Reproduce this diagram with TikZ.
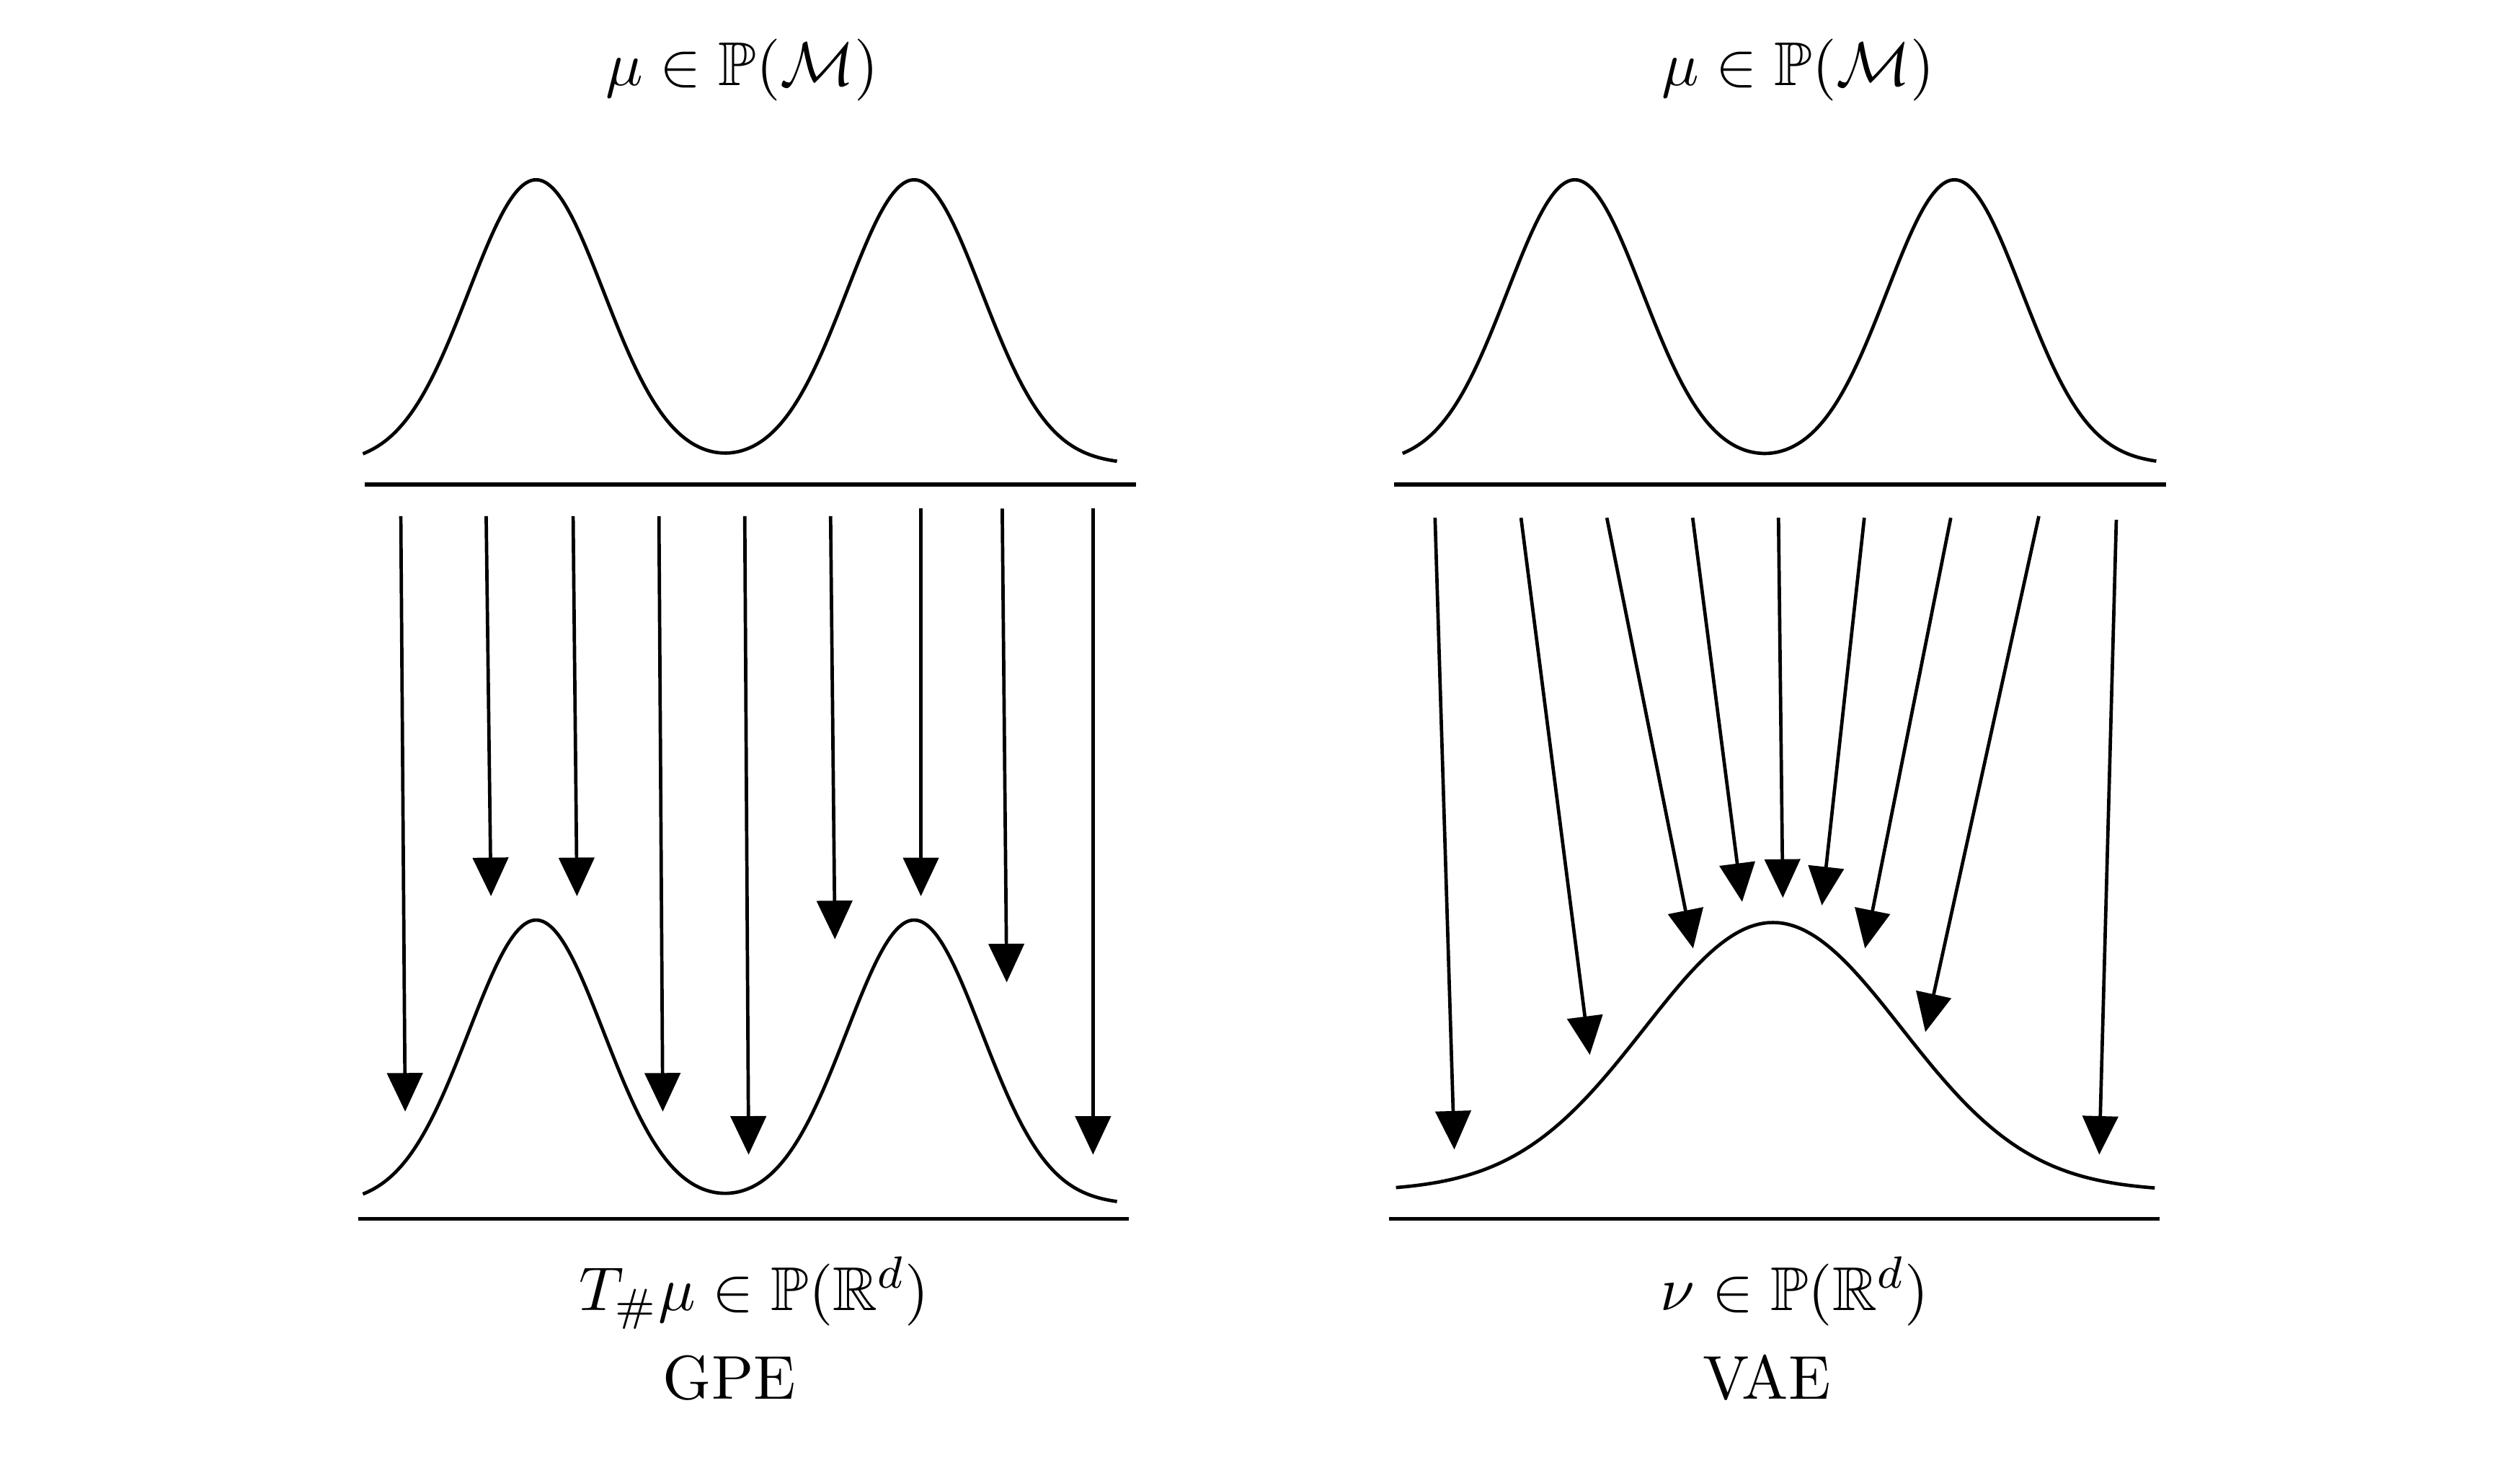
\documentclass[11pt,tikz,border=0pt]{standalone}
\usepackage{amssymb}
\usetikzlibrary{arrows.meta}

\begin{document}
\begin{tikzpicture}[line width=0.6pt, >={Triangle[width=0.22cm, length=0.24cm]},
		baseline/.style={line width=0.7pt},
		declare function={twobump(\t,\a,\b)=1.77*(exp(-(\t-\a)*(\t-\a)/0.3528)+exp(-(\t-\b)*(\t-\b)/0.3528));
			onebump(\t,\a)=1.671*exp(-(\t-\a)*(\t-\a)/1.28);}]
		\useasboundingbox (0, 0) rectangle (15.68, 9.08);
		
		% GPE
		\node[anchor=base] (muL) at (4.617, 8.55) {$\mu \in \mathbb{P}(\mathcal{M})$};
		\draw plot[domain=2.258:6.952, samples=160, smooth] (\x, {6.1915 + twobump(\x, 3.336, 5.688)});
		\draw[baseline] (2.268, 6.067) -- (7.068, 6.067);
		\draw[->] (2.494, 5.869) -- (2.521, 2.165);
		\draw[->] (3.025, 5.869) -- (3.055, 3.505);
		\draw[->] (3.566, 5.869) -- (3.590, 3.505);
		\draw[->] (4.100, 5.869) -- (4.124, 2.165);
		\draw[->] (4.634, 5.869) -- (4.658, 1.897);
		\draw[->] (5.168, 5.869) -- (5.195, 3.237);
		\draw[->] (5.730, 5.916) -- (5.730, 3.505);
		\draw[->] (6.236, 5.916) -- (6.264, 2.969);
		\draw[->] (6.801, 5.916) -- (6.801, 1.897);
		\draw plot[domain=2.258:6.952, samples=160, smooth] (\x, {1.5865 + twobump(\x, 3.336, 5.688)});
		\draw[baseline] (2.227, 1.497) -- (7.024, 1.497);
		\node[anchor=base] (pushL) at (4.694, 0.927) {$T_{\#}\mu \in \mathbb{P}(\mathbb{R}^d)$};
		\node[anchor=base] (gpe) at (4.538, 0.379) {GPE};
		
		% VAE
		\node[anchor=base] (muR) at (11.189, 8.55) {$\mu \in \mathbb{P}(\mathcal{M})$};
		\draw plot[domain=8.727:13.418, samples=160, smooth] (\x, {6.1915 + twobump(\x, 9.799, 12.161)});
		\draw[baseline] (8.676, 6.067) -- (13.476, 6.067);
		\draw[->] (8.929, 5.859) -- (9.049, 1.929);
		\draw[->] (9.464, 5.859) -- (9.892, 2.518);
		\draw[->] (9.998, 5.859) -- (10.535, 3.180);
		\draw[->] (10.532, 5.859) -- (10.840, 3.470);
		\draw[->] (11.066, 5.859) -- (11.093, 3.495);
		\draw[->] (11.600, 5.859) -- (11.336, 3.448);
		\draw[->] (12.138, 5.859) -- (11.604, 3.180);
		\draw[->] (12.686, 5.869) -- (11.980, 2.660);
		\draw[->] (13.168, 5.847) -- (13.062, 1.897);
		\draw plot[domain=8.686:13.408, samples=160, smooth] (\x, {1.670 + onebump(\x, 11.032)});
		\draw[baseline] (8.642, 1.497) -- (13.435, 1.497);
		\node[anchor=base] (nuR) at (11.167, 0.927) {$\nu \in \mathbb{P}(\mathbb{R}^d)$};
		\node[anchor=base] (vae) at (10.992, 0.379) {VAE};
	\end{tikzpicture}
\end{document}
